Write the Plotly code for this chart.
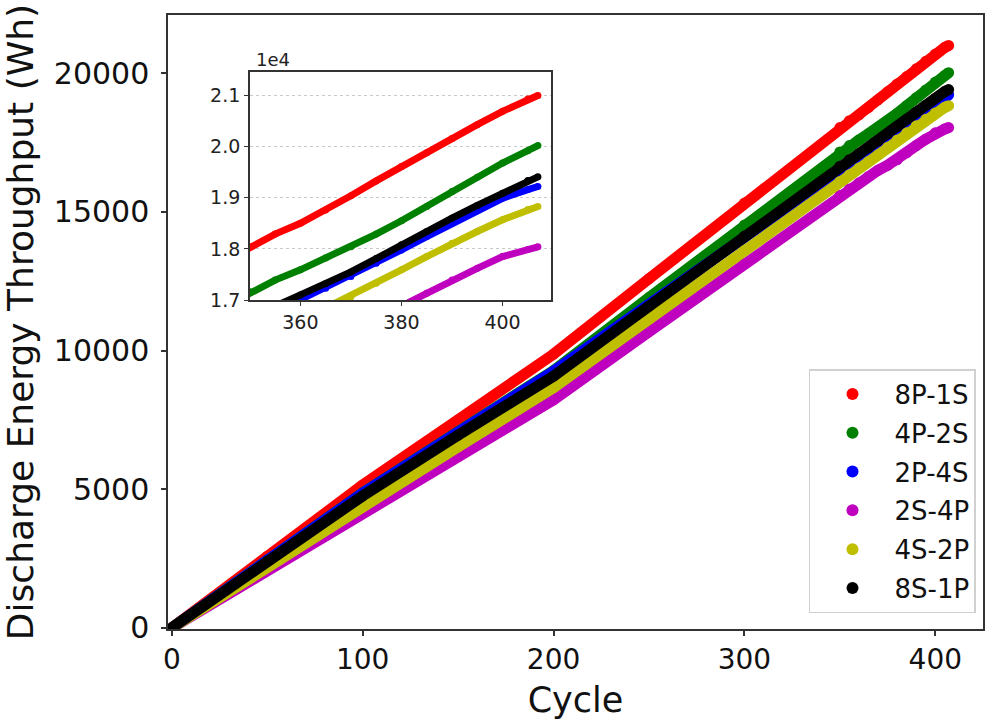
import plotly.graph_objects as go

cycles = [0, 50, 100, 150, 200, 250, 300, 350, 355, 360,
          365, 370, 375, 380, 385, 390, 395, 400, 405, 407]

s_8p1s = [0, 2580, 5150, 7500, 9870, 12590, 15320, 18040, 18290, 18500,
          18760, 19040, 19330, 19610, 19880, 20160, 20430, 20690, 20930, 21000]
s_4p2s = [0, 2450, 4870, 7080, 9280, 11910, 14530, 17160, 17390, 17590,
          17820, 18040, 18290, 18550, 18830, 19120, 19400, 19680, 19920, 20020]
s_2p4s = [0, 2440, 4860, 7060, 9250, 11670, 14090, 16500, 16750, 17000,
          17230, 17460, 17720, 17980, 18240, 18500, 18750, 18990, 19160, 19220]
s_2s4p = [0, 2080, 4140, 6180, 8220, 10680, 13140, 15600, 15830, 16050,
          16280, 16500, 16680, 16880, 17130, 17390, 17620, 17850, 17990, 18040]
s_4s2p = [0, 2200, 4390, 6530, 8660, 11140, 13620, 16100, 16340, 16580,
          16820, 17060, 17330, 17590, 17850, 18110, 18340, 18570, 18770, 18830]
s_8s1p = [0, 2400, 4760, 6950, 9080, 11600, 14130, 16650, 16880, 17100,
          17320, 17550, 17810, 18080, 18340, 18600, 18850, 19090, 19340, 19410]

names = ["8P-1S", "4P-2S", "2P-4S", "2S-4P", "4S-2P", "8S-1P"]
series = [s_8p1s, s_4p2s, s_2p4s, s_2s4p, s_4s2p, s_8s1p]
colors = ["#ff0000", "#008000", "#0000ff", "#bf00bf", "#bfbf00", "#000000"]

main_ticks_x = [0, 100, 200, 300, 400]
main_ticks_y = [0, 5000, 10000, 15000, 20000]
main_ticktext_y = ["0", "5000", "10000", "15000", "20000"]
inset_ticks_x = [360, 380, 400]
inset_ticks_y = [17000, 18000, 19000, 20000, 21000]
inset_ticktext_y = ["1.7", "1.8", "1.9", "2.0", "2.1"]

fig = go.Figure()

for n, s, c in zip(names, series, colors):
    fig.add_trace(go.Scatter(x=cycles, y=s, mode="lines+markers", name=n, showlegend=False,
                             line=dict(color=c, width=11), marker=dict(color=c, size=11),
                             xaxis="x", yaxis="y"))
for n, s, c in zip(names, series, colors):
    fig.add_trace(go.Scatter(x=cycles, y=s, mode="lines+markers", name=n, showlegend=False,
                             line=dict(color=c, width=7), marker=dict(color=c, size=7),
                             xaxis="x2", yaxis="y2"))
for n, c in zip(names, colors):
    fig.add_trace(go.Scatter(x=[None], y=[None], mode="markers", name=n, showlegend=True,
                             marker=dict(color=c, size=10), legendgroup=n))

axcol = "#333333"
fig.update_layout(
    width=995, height=727,
    margin=dict(l=168, r=10, t=15, b=98),
    paper_bgcolor="white", plot_bgcolor="white",
    font=dict(family="DejaVu Sans", color="#111111"),
    xaxis=dict(domain=[0, 1], range=[-2, 425], tickvals=main_ticks_x, ticks="outside",
               ticklen=5, tickwidth=1.5, tickcolor=axcol, showline=True, linecolor=axcol,
               linewidth=1.5, mirror=True, showgrid=False, zeroline=False,
               tickfont=dict(size=28), title=dict(text="Cycle", font=dict(size=35), standoff=12)),
    yaxis=dict(domain=[0, 1], range=[-40, 22100], tickvals=main_ticks_y, ticktext=main_ticktext_y,
               ticks="outside", ticklen=5, tickwidth=1.5, tickcolor=axcol, showline=True,
               linecolor=axcol, linewidth=1.5, mirror=True, showgrid=False, zeroline=False,
               tickfont=dict(size=30), ticklabelstandoff=6,
               title=dict(text="Discharge Energy Throughput (Wh)", font=dict(size=36), standoff=12)),
    xaxis2=dict(domain=[0.1004, 0.470], anchor="y2", range=[350, 409.6], tickvals=inset_ticks_x,
                ticks="outside", ticklen=4, tickcolor=axcol, showline=True, linecolor=axcol,
                linewidth=1.5, mirror=True, showgrid=False, zeroline=False,
                tickfont=dict(size=19, color="#222222")),
    yaxis2=dict(domain=[0.5358, 0.9072], anchor="x2", range=[17000, 21460],
                tickvals=inset_ticks_y, ticktext=inset_ticktext_y, ticks="outside", ticklen=4,
                tickcolor=axcol, showline=True, linecolor=axcol, linewidth=1.5, mirror=True,
                showgrid=True, gridcolor="#c8c8c8", griddash="dot", gridwidth=1, zeroline=False,
                tickfont=dict(size=19, color="#222222")),
    legend=dict(x=0.9914, y=0.026, xanchor="right", yanchor="bottom",
                bordercolor="#d0d0d0", borderwidth=1.5, bgcolor="white",
                font=dict(size=26, color="#111111"), tracegroupgap=2,
                itemsizing="constant", itemwidth=74),
    annotations=[dict(text="1e4", xref="paper", yref="paper",
                      x=0.1004, y=0.9072, xanchor="left", yanchor="bottom", showarrow=False,
                      font=dict(size=18, color="#222222"), xshift=4, yshift=0)],
)

fig.write_html("out.html")
